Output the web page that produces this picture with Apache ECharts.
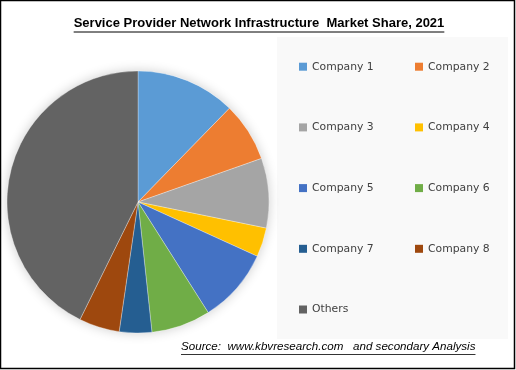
<!DOCTYPE html>
<html><head><meta charset="utf-8">
<script src="https://cdn.jsdelivr.net/npm/echarts@6/dist/echarts.min.js"></script>
<style>html,body{margin:0;padding:0;background:#fff}#c{width:516px;height:370px}</style>
</head><body><div id="c"></div>
<script>
const titleText = 'Service Provider Network Infrastructure  Market Share, 2021';
const sourceText = 'Source:  www.kbvresearch.com   and secondary Analysis';
const categories = ['Company 1','Company 2','Company 3','Company 4','Company 5','Company 6','Company 7','Company 8','Others'];
const shares = [12.3, 7.3, 8.6, 3.6, 9.2, 7.3, 4.0, 5.0, 42.7];
const colors = ['#5B9BD5','#ED7D31','#A5A5A5','#FFC000','#4472C4','#70AD47','#255E91','#9E480E','#636363'];
const legendCol1 = ['Company 1','Company 3','Company 5','Company 7','Others'];
const legendCol2 = ['Company 2','Company 4','Company 6','Company 8'];

function measure(text, font){
  const ctx = document.createElement('canvas').getContext('2d');
  ctx.font = font; return ctx.measureText(text).width;
}
const titleFont = 'bold 13px "Liberation Sans"';
const srcFont = 'italic 11.6px "Liberation Sans"';
const tW = measure(titleText, titleFont);
const sW = measure(sourceText, srcFont);
const tCx = 259, tY = 24.5;
const sX = 181, sY = 348;

const chart = echarts.init(document.getElementById('c'));
const legendBase = {
  orient: 'vertical', top: 59.7, itemWidth: 8, itemHeight: 8, icon: 'rect', itemGap: 46.7,
  itemStyle: {borderWidth: 0},
  textStyle: {fontFamily: 'DejaVu Sans', fontSize: 10.8, color: '#404040', lineHeight: 14},
  selectedMode: false, padding: 0
};
chart.setOption({
  animation: false,
  color: colors,
  graphic: [
    {type:'rect', shape:{x:0.5,y:0.5,width:514,height:368}, style:{fill:'none', stroke:'#000', lineWidth:1.5}, z:100},
    {type:'rect', shape:{x:277,y:37,width:231,height:302}, style:{fill:'#f9f9f9'}, z:-1},
    {type:'text', left: tCx - tW/2, top: tY - 8, style:{text: titleText, font: titleFont, fill:'#000'}},
    {type:'line', shape:{x1: tCx - tW/2, y1: tY + 7.5, x2: tCx + tW/2, y2: tY + 7.5}, style:{stroke:'#000', lineWidth:1}},
    {type:'text', left: sX, top: sY - 7, style:{text: sourceText, font: srcFont, fill:'#000'}},
    {type:'line', shape:{x1: sX, y1: sY + 6.5, x2: sX + sW, y2: sY + 6.5}, style:{stroke:'#000', lineWidth:0.8}}
  ],
  legend: [
    Object.assign({}, legendBase, {left: 299, data: legendCol1}),
    Object.assign({}, legendBase, {left: 415, data: legendCol2})
  ],
  series: [
    {type:'pie', silent:true, center:[138,202], radius:131, z:1, label:{show:false}, labelLine:{show:false},
     itemStyle:{color:'#fff', shadowBlur:12, shadowColor:'rgba(0,0,0,0.2)'}, data:[{value:1, name:'_bg'}], legendHoverLink:false},
    {type:'pie', center:[138,202], radius:131, startAngle:90, clockwise:true, z:2,
     label:{show:false}, labelLine:{show:false},
     itemStyle:{borderColor:'rgba(255,255,255,0.6)', borderWidth:0.5},
     data: categories.map((c,i)=>({name:c, value:shares[i], itemStyle:{color:colors[i]}}))}
  ]
});
</script></body></html>
